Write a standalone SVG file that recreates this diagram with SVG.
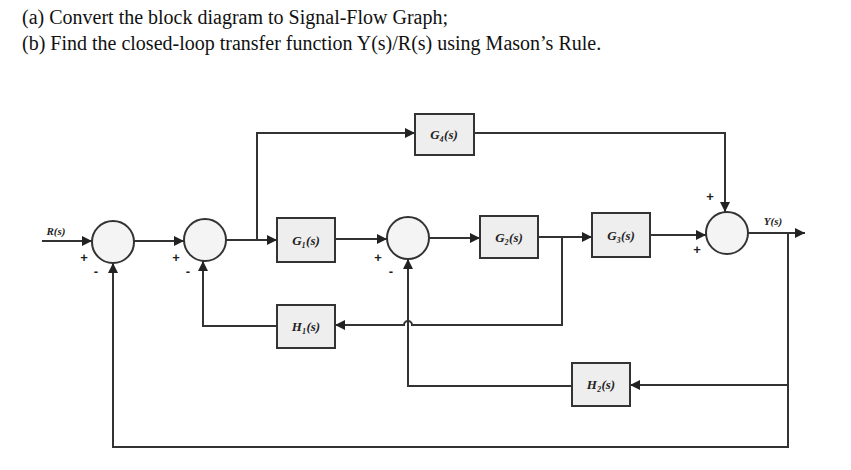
<svg xmlns="http://www.w3.org/2000/svg" width="851" height="470" viewBox="0 0 851 470">
<style>
.t{font-family:"Liberation Serif",serif;font-size:20px;fill:#111}
.b{fill:#eee;stroke:#333;stroke-width:2}
.s{fill:#f4f4f4;stroke:#333;stroke-width:2}
.l{font-family:"Liberation Serif",serif;font-style:italic;font-weight:bold;font-size:13px;fill:#222;text-anchor:middle}
.sg{font-family:"Liberation Sans",sans-serif;font-weight:bold;font-size:13px;fill:#222;text-anchor:middle}
#c path{fill:none;stroke:#333;stroke-width:2}
</style>
<defs><marker id="a" viewBox="0 0 10 10" refX="10" refY="5" markerWidth="5" markerHeight="5" orient="auto"><path d="M0,0L10,5L0,10z" fill="#222"/></marker></defs>
<rect width="851" height="470" fill="#fff"/>
<text class="t" x="22" y="24">(a) Convert the block diagram to Signal-Flow Graph;</text>
<text class="t" x="22" y="50">(b) Find the closed-loop transfer function Y(s)/R(s) using Mason’s Rule.</text>
<g id="c">
<path d="M42,241H92" marker-end="url(#a)"/>
<path d="M134,241H184" marker-end="url(#a)"/>
<path d="M226,240H277" marker-end="url(#a)"/>
<path d="M257,240V133H415" marker-end="url(#a)"/>
<path d="M335,239H387" marker-end="url(#a)"/>
<path d="M429,238H480" marker-end="url(#a)"/>
<path d="M538,237H592" marker-end="url(#a)"/>
<path d="M562,237V325H412a4,4 0 0 0 -8,0H335" marker-end="url(#a)"/>
<path d="M277,326H203V261" marker-end="url(#a)"/>
<path d="M650,235H706" marker-end="url(#a)"/>
<path d="M474,133H725V212" marker-end="url(#a)"/>
<path d="M748,233H805" marker-end="url(#a)"/>
<path d="M788,233V447H113V263" marker-end="url(#a)"/>
<path d="M788,385H630" marker-end="url(#a)"/>
<path d="M572,386H408V259" marker-end="url(#a)"/>
</g>
<g id="sum1"><circle class="s" cx="113" cy="242" r="21"/><text class="sg" x="84" y="262">+</text><text class="sg" x="96" y="276">-</text></g>
<g id="sum2"><circle class="s" cx="205" cy="240" r="21"/><text class="sg" x="176" y="262">+</text><text class="sg" x="188" y="276">-</text></g>
<g id="sum3"><circle class="s" cx="408" cy="238" r="21"/><text class="sg" x="378" y="262">+</text><text class="sg" x="391" y="276">-</text></g>
<g id="sum4"><circle class="s" cx="727" cy="233" r="21"/><text class="sg" x="710" y="201">+</text><text class="sg" x="697" y="254">+</text></g>
<g id="G1"><rect class="b" x="277" y="218" width="58" height="44"/><text class="l" x="306" y="245">G₁(s)</text></g>
<g id="H1"><rect class="b" x="277" y="305" width="58" height="43"/><text class="l" x="306" y="331">H₁(s)</text></g>
<g id="G4"><rect class="b" x="415" y="114" width="59" height="41"/><text class="l" x="444" y="139">G₄(s)</text></g>
<g id="G2"><rect class="b" x="480" y="216" width="58" height="42"/><text class="l" x="509" y="242">G₂(s)</text></g>
<g id="G3"><rect class="b" x="592" y="213" width="58" height="44"/><text class="l" x="621" y="240">G₃(s)</text></g>
<g id="H2"><rect class="b" x="572" y="363" width="58" height="43"/><text class="l" x="601" y="389">H₂(s)</text></g>
<text class="l" x="56" y="235" style="font-size:11px">R(s)</text>
<text class="l" x="773" y="225" style="font-size:11px">Y(s)</text>
</svg>
